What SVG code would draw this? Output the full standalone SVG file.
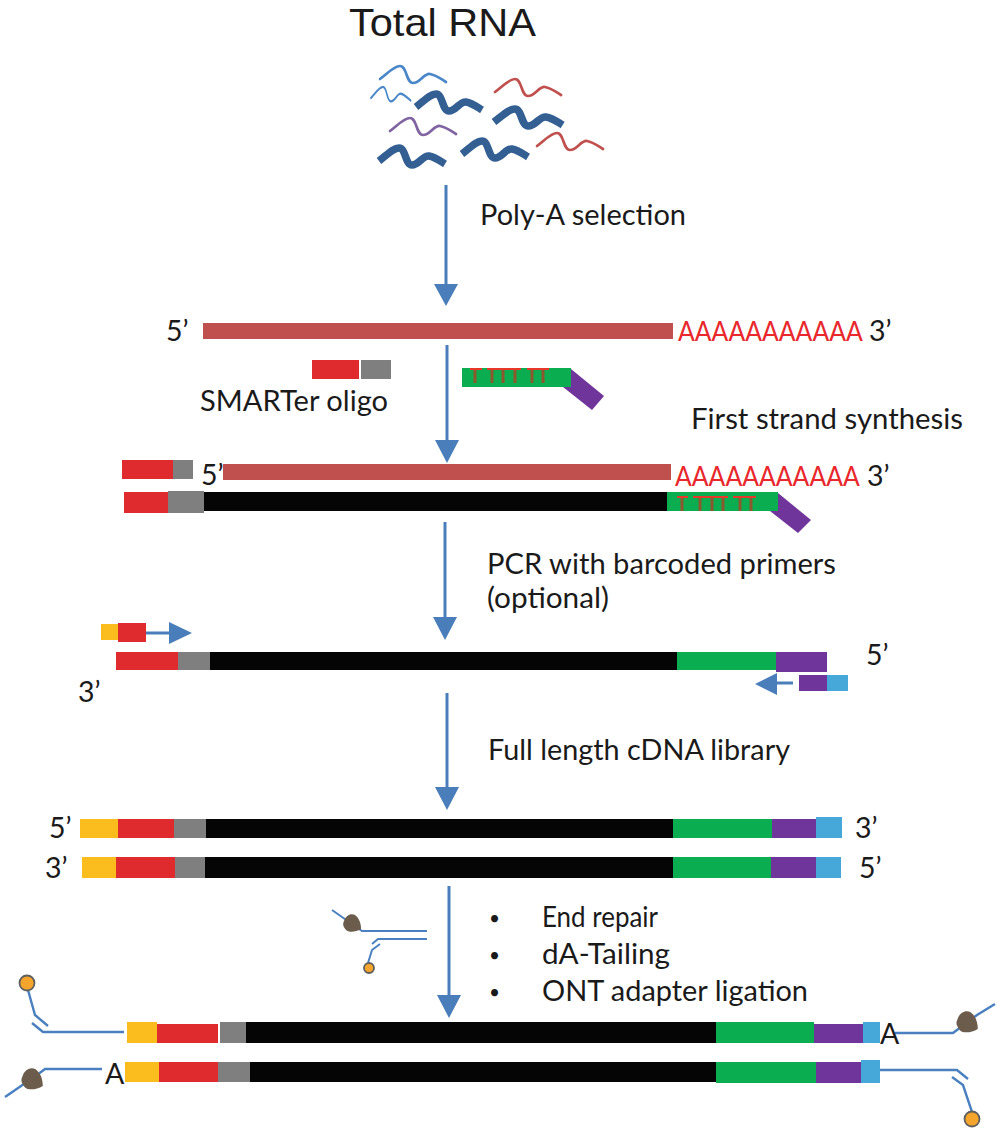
<svg xmlns="http://www.w3.org/2000/svg" xmlns:xlink="http://www.w3.org/1999/xlink" width="1000" height="1131" viewBox="0 0 1000 1131">
<style>
text{font-family:"Lato","Open Sans","Liberation Sans",sans-serif;fill:#1a1a1a;font-size:28.5px}
.poly{fill:#e8282c;font-size:27px}
.title{font-family:"Liberation Sans",sans-serif;font-size:39.5px}
.bul{font-size:19px}
.rna{fill:none;stroke-linecap:round;stroke-linejoin:round}
.thin{stroke-width:2.7}
.thick{stroke:#335f92;stroke-width:7.5;stroke-linecap:butt}
.lb{stroke:#4a87c8}.rd{stroke:#c0504d}.pu{stroke:#8064a2}
.conn{stroke:#4a7ebb;stroke-width:3;fill:none}
.ad{stroke:#4a80c0;stroke-width:2.4;fill:none}
.head{fill:#4a7ebb}
.red{fill:#e02b2e}.gray{fill:#7f7f7f}.black{fill:#050505}.green{fill:#0aae50}.purple{fill:#70359a}.blue{fill:#45a8d8}.yellow{fill:#fbbc1e}.brown{fill:#c0504d}
.tt{stroke:#e8382c;stroke-width:2;fill:none}
.st{stroke:#8a5a2e;stroke-width:3;fill:none}
.blob{fill:#6b5c4c}
.ball{fill:#f5a52b;stroke:#5f5f5f;stroke-width:1.8}
</style>
<defs>
<path id="sq" d="M0,0C8,-6 14,-13 20,-13C27,-13 26,4 33,4C40,4 44,-6 50,-5C56,-4 61,0 66,3"/>
<path id="bl" d="M-8,-3C-6,-9 -1,-11 3,-9C7,-6 9,-1 9,5C4,8 -3,9 -6,6C-8,3 -10,1 -8,-3Z"/>
</defs>
<g id="title"><text class="title" x="349" y="36" textLength="187" lengthAdjust="spacingAndGlyphs">Total RNA</text></g>
<g id="total-rna" class="rna">
<use xlink:href="#sq" href="#sq" class="thin lb" transform="translate(380,79)"/>
<use xlink:href="#sq" href="#sq" class="thin lb" transform="translate(371,98) scale(.6,.85)"/>
<use xlink:href="#sq" href="#sq" class="thick" transform="translate(416,107)"/>
<use xlink:href="#sq" href="#sq" class="thin rd" transform="translate(495,92)"/>
<use xlink:href="#sq" href="#sq" class="thick" transform="translate(494,122) scale(1.04,1)"/>
<use xlink:href="#sq" href="#sq" class="thin pu" transform="translate(390,131)"/>
<use xlink:href="#sq" href="#sq" class="thick" transform="translate(379,161)"/>
<use xlink:href="#sq" href="#sq" class="thick" transform="translate(462,154)"/>
<use xlink:href="#sq" href="#sq" class="thin rd" transform="translate(537,146)"/>
</g>
<g id="connectors">
<path class="conn" d="M446,185V286M447,345V441M445,522V618M447,693V788M449,886V996"/>
<path class="head" d="M434,284H458L446,306ZM435,440H459L447,463ZM433,617H457L445,640ZM435,787H459L447,810ZM437,995H461L449,1018Z"/>
<path class="conn" d="M146,633H170M775,683H793"/>
<path class="head" d="M169,622L192,633L169,644ZM777,673L755,684L777,695Z"/>
</g>
<g id="labels">
<text x="480" y="225" textLength="206" lengthAdjust="spacingAndGlyphs">Poly-A selection</text>
<text x="691" y="429" textLength="272" lengthAdjust="spacingAndGlyphs">First strand synthesis</text>
<text x="487" y="574" textLength="349" lengthAdjust="spacingAndGlyphs">PCR with barcoded primers</text>
<text x="487" y="608" textLength="122" lengthAdjust="spacingAndGlyphs">(optional)</text>
<text x="488" y="760" textLength="302" lengthAdjust="spacingAndGlyphs">Full length cDNA library</text>
<text class="bul" x="489" y="925">•</text><text x="542" y="927" textLength="116" lengthAdjust="spacingAndGlyphs">End repair</text>
<text class="bul" x="489" y="962">•</text><text x="542" y="964" textLength="128" lengthAdjust="spacingAndGlyphs">dA-Tailing</text>
<text class="bul" x="489" y="999">•</text><text x="542" y="1001" textLength="266" lengthAdjust="spacingAndGlyphs">ONT adapter ligation</text>
</g>
<g id="mrna">
<text x="166" y="341">5’</text>
<rect class="brown" x="203" y="323" width="470" height="16"/>
<text class="poly" transform="translate(678,341) scale(.915,1)" textLength="202" lengthAdjust="spacingAndGlyphs">AAAAAAAAAAA</text>
<text x="869" y="341">3’</text>
</g>
<g id="smarter-oligo">
<rect class="red" x="312" y="360" width="47" height="19"/>
<rect class="gray" x="361" y="360" width="30" height="19"/>
<text x="200" y="411" textLength="188" lengthAdjust="spacingAndGlyphs">SMARTer oligo</text>
</g>
<g id="oligo-dt">
<polygon class="purple" points="571,369 604,396 592,410 563,387"/>
<rect class="green" x="462" y="368" width="109" height="19"/>
<path class="st" d="M475,369V383M492,369V383M503,369V383M515,369V383M532,369V383M543,369V383"/>
<path class="tt" d="M470,369H482M487,369H521M527,369H549"/>
</g>
<g id="first-strand">
<rect class="red" x="122" y="460" width="51" height="19"/>
<rect class="gray" x="173" y="460" width="20" height="19"/>
<text x="201" y="485">5’</text>
<rect class="brown" x="223" y="464" width="448" height="16"/>
<text class="poly" transform="translate(675,486) scale(.915,1)" textLength="202" lengthAdjust="spacingAndGlyphs">AAAAAAAAAAA</text>
<text x="867" y="486">3’</text>
<polygon class="purple" points="778,493 811,520 798,533 770,511"/>
<rect class="red" x="124" y="492" width="47" height="21"/>
<rect class="black" x="204" y="492" width="463" height="19"/>
<rect class="gray" x="168" y="491" width="36" height="22"/>
<rect class="green" x="667" y="492" width="111" height="19"/>
<path class="st" d="M682,497V511M700,497V511M712,497V511M723,497V511M740,497V511M751,497V511"/>
<path class="tt" d="M677,497H688M693,497H728M733,497H756"/>
</g>
<g id="pcr">
<rect class="yellow" x="101" y="624" width="19" height="16"/>
<rect class="red" x="118" y="623" width="28" height="19"/>
<rect class="red" x="116" y="652" width="62" height="18"/>
<rect class="gray" x="178" y="652" width="32" height="18"/>
<rect class="black" x="210" y="652" width="467" height="18"/>
<rect class="green" x="677" y="652" width="99" height="18"/>
<rect class="purple" x="776" y="652" width="51" height="20"/>
<rect class="purple" x="799" y="675" width="28" height="16"/>
<rect class="blue" x="827" y="675" width="21" height="16"/>
<text x="78" y="702">3’</text>
<text x="866" y="665">5’</text>
</g>
<g id="cdna-top">
<text x="49" y="838">5’</text>
<rect class="yellow" x="80" y="819" width="38" height="19"/>
<rect class="red" x="118" y="819" width="56" height="19"/>
<rect class="gray" x="174" y="819" width="32" height="19"/>
<rect class="black" x="206" y="819" width="467" height="19"/>
<rect class="green" x="673" y="819" width="99" height="19"/>
<rect class="purple" x="772" y="819" width="44" height="19"/>
<rect class="blue" x="816" y="817" width="26" height="21"/>
<text x="855" y="838">3’</text>
</g>
<g id="cdna-bottom">
<text x="45" y="878">3’</text>
<rect class="yellow" x="82" y="857" width="34" height="21"/>
<rect class="red" x="116" y="857" width="59" height="21"/>
<rect class="gray" x="175" y="857" width="30" height="21"/>
<rect class="black" x="205" y="857" width="468" height="21"/>
<rect class="green" x="673" y="857" width="98" height="21"/>
<rect class="purple" x="771" y="857" width="45" height="21"/>
<rect class="blue" x="816" y="857" width="25" height="21"/>
<text x="859" y="878">5’</text>
</g>
<g id="adapter-free">
<path class="ad" d="M332,910L362,931H427M427,939H378L372,944M380,944L372,950L368,963" style="stroke-width:2"/>
<use xlink:href="#bl" href="#bl" class="blob" transform="translate(352,924)"/>
<circle class="ball" cx="369" cy="968" r="5"/>
</g>
<g id="library-top">
<path class="ad" d="M28,990L35,1015L48,1026M32,1023L43,1032H124M895,1033H953L977,1015L995,1004"/>
<circle class="ball" cx="27" cy="983" r="7.5"/>
<use xlink:href="#bl" href="#bl" class="blob" transform="translate(967,1023) scale(1.2)"/>
<rect class="yellow" x="127" y="1022" width="30" height="21"/>
<rect class="red" x="157" y="1024" width="61" height="19"/>
<rect class="gray" x="220" y="1022" width="26" height="21"/>
<rect class="black" x="246" y="1022" width="470" height="21"/>
<rect class="green" x="716" y="1022" width="98" height="21"/>
<rect class="purple" x="814" y="1024" width="49" height="19"/>
<rect class="blue" x="863" y="1022" width="17" height="21"/>
<text x="880" y="1044">A</text>
</g>
<g id="library-bottom">
<path class="ad" d="M102,1069H45L37,1075L5,1097M880,1070H957L968,1079M952,1077L963,1085L972,1112"/>
<use xlink:href="#bl" href="#bl" class="blob" transform="translate(32,1080) scale(1.2)"/>
<circle class="ball" cx="972" cy="1119" r="7.5"/>
<text x="105" y="1084">A</text>
<rect class="yellow" x="125" y="1062" width="34" height="20"/>
<rect class="red" x="159" y="1062" width="59" height="20"/>
<rect class="gray" x="218" y="1062" width="32" height="20"/>
<rect class="black" x="250" y="1062" width="466" height="20"/>
<rect class="green" x="716" y="1062" width="100" height="21"/>
<rect class="purple" x="816" y="1062" width="45" height="21"/>
<rect class="blue" x="861" y="1060" width="19" height="23"/>
</g>
</svg>
